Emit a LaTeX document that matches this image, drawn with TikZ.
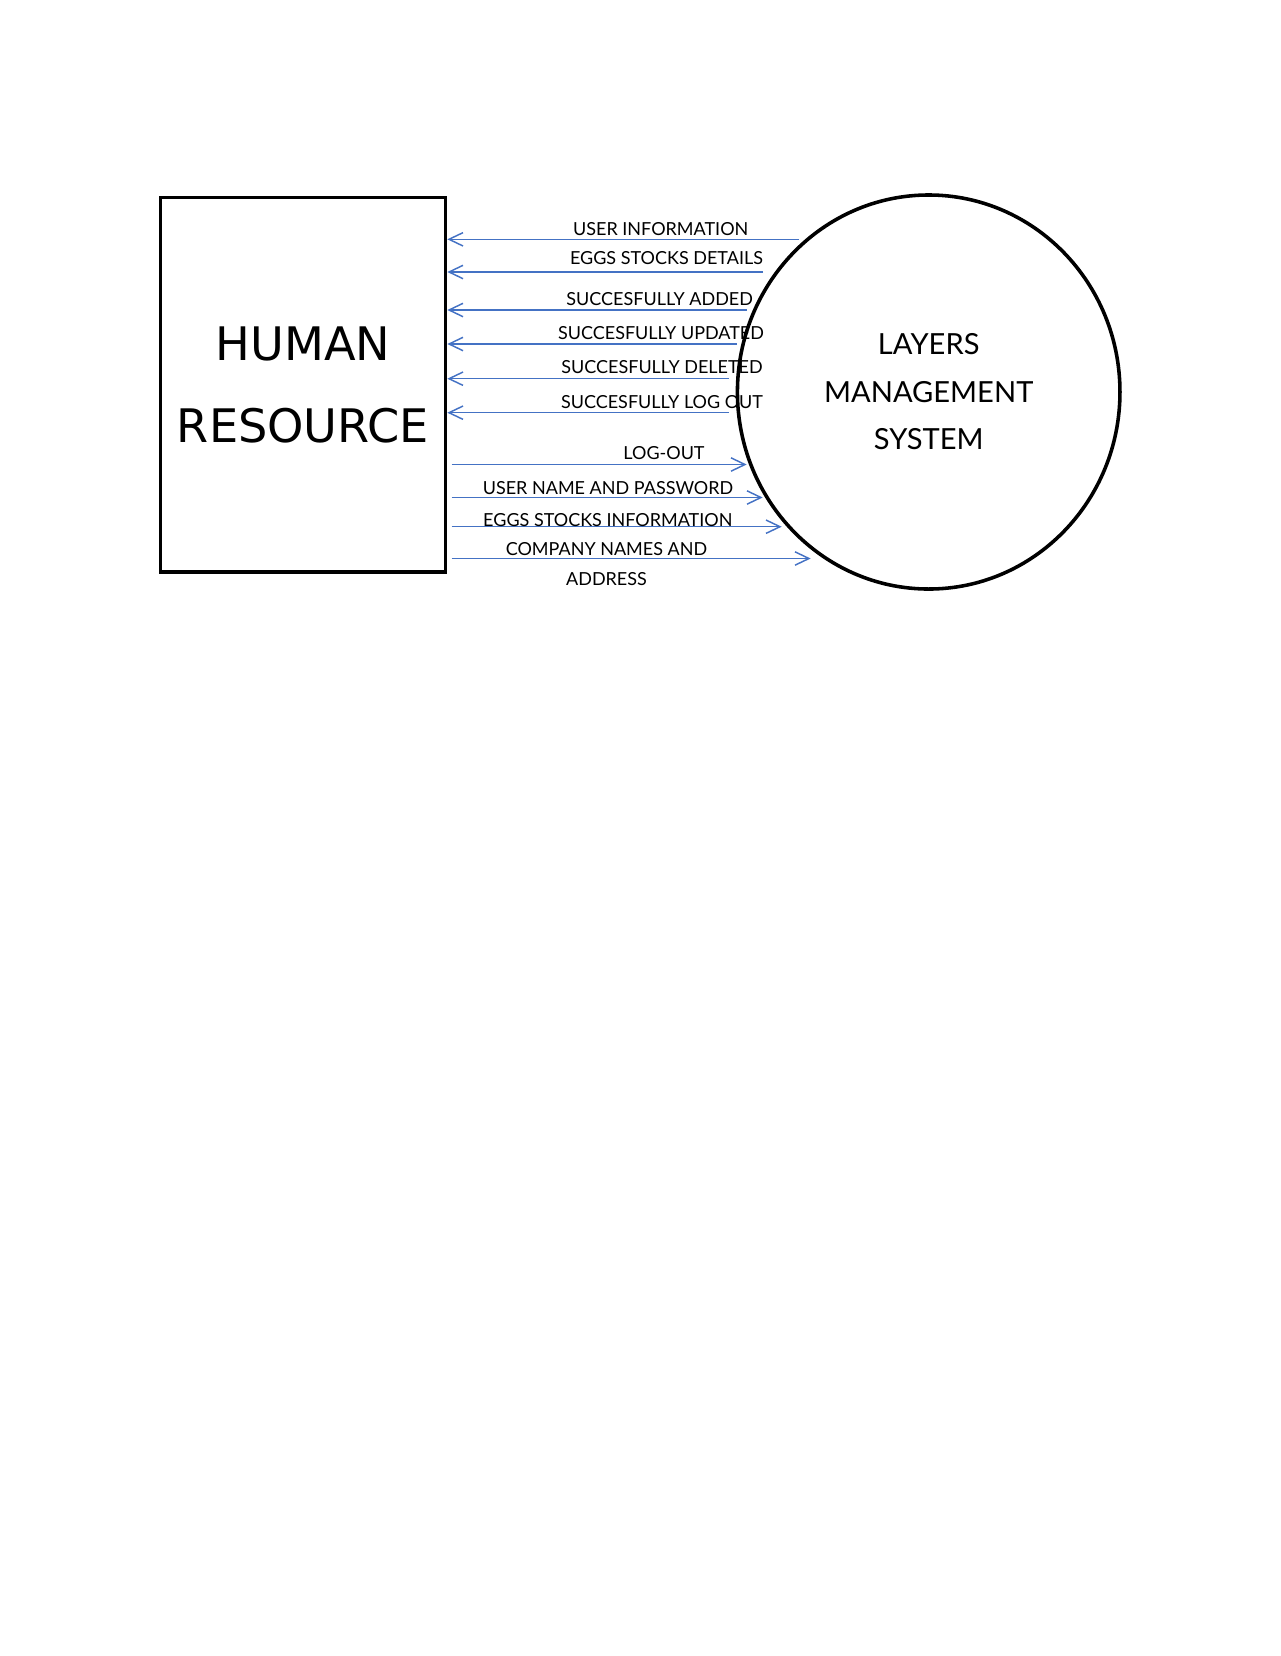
\documentclass[tikz,border=0pt]{standalone}
\usepackage{fontspec}
\setmainfont{Lato}
\newfontfamily\boxfont{DejaVu Sans}
\usetikzlibrary{arrows.meta,shapes.geometric}
\definecolor{flowblue}{RGB}{68,114,196}
\tikzset{every picture/.style={line width=0.75pt}}
\tikzset{
	flow/.style={draw=flowblue, line width=0.7pt, -{Straight Barb[length=6.7pt,width=6.4pt,line width=0.7pt]}},
	flowlabel/.style={anchor=base, inner sep=0pt, font=\fontsize{8.6}{13.9}\selectfont}}

\begin{document}
\begin{tikzpicture}[x=0.478125pt,y=0.478125pt,yscale=-1,xscale=1]
	\useasboundingbox (0,0) rectangle (1280,1656);

	%Shape: Rectangle [id:hr] 
	\node [draw, line width=1.7pt, minimum width=136.3pt, minimum height=179pt, inner sep=0pt, align=center, font=\boxfont\fontsize{22.1}{39}\selectfont] (hr) at (303,384.8) {HUMAN\\RESOURCE};
	%Shape: Ellipse [id:lms] 
	\node [draw, ellipse, line width=1.7pt, minimum width=182.9pt, minimum height=188.4pt, inner sep=0pt, align=center, font=\fontsize{13.9}{22.7}\selectfont] (lms) at (928.7,392) {LAYERS\\MANAGEMENT\\SYSTEM};

	%Straight Lines [id:ui] 
	\coordinate (ui) at (799,239.3);
	\draw [flow] (ui) -- (hr.east |- ui);
	%Straight Lines [id:esd] 
	\coordinate (esd) at (763,272);
	\draw [flow] (esd) -- (hr.east |- esd);
	%Straight Lines [id:sad] 
	\coordinate (sad) at (747,310);
	\draw [flow] (sad) -- (hr.east |- sad);
	%Straight Lines [id:sup] 
	\coordinate (sup) at (737,344);
	\draw [flow] (sup) -- (hr.east |- sup);
	%Straight Lines [id:sdel] 
	\coordinate (sdel) at (729,378.7);
	\draw [flow] (sdel) -- (hr.east |- sdel);
	%Straight Lines [id:slo] 
	\coordinate (slo) at (729,412.7);
	\draw [flow] (slo) -- (hr.east |- slo);

	%Straight Lines [id:lo] 
	\coordinate (lo) at (746.7,464.5);
	\draw [flow] ([xshift=2pt]hr.east |- lo) -- (lo);
	%Straight Lines [id:unp] 
	\coordinate (unp) at (762.7,497.5);
	\draw [flow] ([xshift=2pt]hr.east |- unp) -- (unp);
	%Straight Lines [id:esi] 
	\coordinate (esi) at (781.7,526.7);
	\draw [flow] ([xshift=2pt]hr.east |- esi) -- (esi);
	%Straight Lines [id:cna] 
	\coordinate (cna) at (810.7,558.5);
	\draw [flow] ([xshift=2pt]hr.east |- cna) -- (cna);

	% Text Node
	\node [flowlabel] (lui) at (660.7,235) {USER INFORMATION};
	% Text Node
	\node [flowlabel] (lesd) at (666.5,264.5) {EGGS STOCKS DETAILS};
	% Text Node
	\node [flowlabel] (lsad) at (659.7,305.7) {SUCCESFULLY ADDED};
	% Text Node
	\node [flowlabel] (lsup) at (661,339.6) {SUCCESFULLY UPDATED};
	% Text Node
	\node [flowlabel] (lsdel) at (662,373.5) {SUCCESFULLY DELETED};
	% Text Node
	\node [flowlabel] (lslo) at (662,408) {SUCCESFULLY LOG OUT};
	% Text Node
	\node [flowlabel] (llo) at (664,459.3) {LOG-OUT};
	% Text Node
	\node [flowlabel] (lunp) at (608,494) {USER NAME AND PASSWORD};
	% Text Node
	\node [flowlabel] (lesi) at (607.8,526) {EGGS STOCKS INFORMATION};
	% Text Node
	\node [flowlabel, align=center] (lcna) at (606.5,585) {COMPANY NAMES AND\\ADDRESS};

\end{tikzpicture}
\end{document}
